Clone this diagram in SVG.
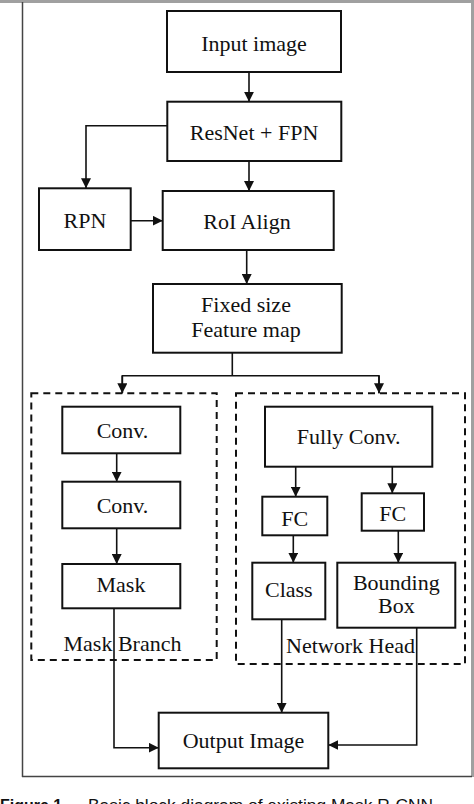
<svg xmlns="http://www.w3.org/2000/svg" width="474" height="804" viewBox="0 0 474 804">
<style>
.box{fill:#fff;stroke:#111;stroke-width:2}
.dash{fill:none;stroke:#111;stroke-width:2;stroke-dasharray:7,5}
.t{font-family:"Liberation Serif","Times New Roman",serif;font-size:22px;fill:#111;text-anchor:middle}
.c{fill:none;stroke:#111;stroke-width:1.6}
.cap{font-family:"Liberation Sans",Arial,sans-serif;font-size:16px;fill:#111}
</style>
<defs>
<marker id="ah" markerWidth="10" markerHeight="10" refX="10" refY="5" orient="auto" markerUnits="userSpaceOnUse">
<path d="M0,0 L10,5 L0,10 Z" fill="#111"/>
</marker>
</defs>
<rect width="474" height="804" fill="#fff"/>
<g id="frame">
<line x1="0" y1="1.5" x2="474" y2="1.5" stroke="#a0a0a0" stroke-width="3"/>
<line x1="472.5" y1="0" x2="472.5" y2="777" stroke="#a0a0a0" stroke-width="3"/>
<line x1="22.5" y1="2" x2="22.5" y2="777" stroke="#444" stroke-width="1.5"/>
<line x1="22" y1="776.5" x2="472" y2="776.5" stroke="#444" stroke-width="1.5"/>
</g>
<g id="mask-branch">
<rect class="dash" x="31.3" y="393.3" width="185.4" height="266.7"/>
<text class="t" x="122.5" y="651">Mask Branch</text>
</g>
<g id="network-head">
<rect class="dash" x="236" y="393.3" width="229" height="270.7"/>
<text class="t" x="350.5" y="653">Network Head</text>
</g>
<g id="connectors">
<line class="c" x1="249" y1="72" x2="249" y2="101.7" marker-end="url(#ah)"/>
<line class="c" x1="249" y1="161" x2="249" y2="191" marker-end="url(#ah)"/>
<polyline class="c" points="167.3,125.7 86,125.7 86,188.3" marker-end="url(#ah)"/>
<line class="c" x1="130.7" y1="220.7" x2="162.7" y2="220.7" marker-end="url(#ah)"/>
<line class="c" x1="246.7" y1="250" x2="246.7" y2="284" marker-end="url(#ah)"/>
<polyline class="c" points="232.3,352.7 232.3,375.7"/>
<polyline class="c" points="122.3,393.3 122.3,375.7 379,375.7 379,393.3"/>
<line class="c" x1="122.3" y1="376" x2="122.3" y2="393.3" marker-end="url(#ah)"/>
<line class="c" x1="379" y1="376" x2="379" y2="393.3" marker-end="url(#ah)"/>
<line class="c" x1="116.7" y1="453.3" x2="116.7" y2="481.7" marker-end="url(#ah)"/>
<line class="c" x1="116.7" y1="528.3" x2="116.7" y2="564" marker-end="url(#ah)"/>
<line class="c" x1="295.7" y1="466.7" x2="295.7" y2="496.7" marker-end="url(#ah)"/>
<line class="c" x1="392.3" y1="466.7" x2="392.3" y2="493.3" marker-end="url(#ah)"/>
<line class="c" x1="293.3" y1="535.3" x2="293.3" y2="562.7" marker-end="url(#ah)"/>
<line class="c" x1="398.3" y1="530.7" x2="398.3" y2="562.7" marker-end="url(#ah)"/>
<polyline class="c" points="114,608.3 114,747.7 158.7,747.7" marker-end="url(#ah)"/>
<line class="c" x1="281.7" y1="619.3" x2="281.7" y2="712.7" marker-end="url(#ah)"/>
<polyline class="c" points="416.7,627.7 416.7,745 328.3,745" marker-end="url(#ah)"/>
</g>
<g id="input-image"><rect class="box" x="167" y="11" width="174" height="61"/><text class="t" x="254" y="51">Input image</text></g>
<g id="resnet-fpn"><rect class="box" x="167.3" y="101.7" width="174" height="59.3"/><text class="t" x="254" y="140">ResNet + FPN</text></g>
<g id="rpn"><rect class="box" x="39" y="188.3" width="91.7" height="61.7"/><text class="t" x="85" y="228">RPN</text></g>
<g id="roi-align"><rect class="box" x="162.7" y="191" width="171" height="59"/><text class="t" x="247" y="229">RoI Align</text></g>
<g id="fixed-size"><rect class="box" x="153" y="284" width="188.7" height="68.7"/><text class="t" x="246" y="312">Fixed size</text><text class="t" x="246" y="337">Feature map</text></g>
<g id="conv1"><rect class="box" x="62.3" y="406.7" width="118" height="46.6"/><text class="t" x="122.5" y="438">Conv.</text></g>
<g id="conv2"><rect class="box" x="62.3" y="481.7" width="118" height="46.6"/><text class="t" x="122.5" y="513">Conv.</text></g>
<g id="mask"><rect class="box" x="62.3" y="564" width="118" height="44.3"/><text class="t" x="121" y="592">Mask</text></g>
<g id="fully-conv"><rect class="box" x="265" y="406.7" width="167.3" height="60"/><text class="t" x="348.7" y="444">Fully Conv.</text></g>
<g id="fc1"><rect class="box" x="262.3" y="496.7" width="65" height="38.6"/><text class="t" x="294.8" y="526">FC</text></g>
<g id="fc2"><rect class="box" x="361.7" y="493.3" width="62.3" height="37.4"/><text class="t" x="392.8" y="521">FC</text></g>
<g id="class"><rect class="box" x="252.3" y="562.7" width="73" height="56.6"/><text class="t" x="288.8" y="597">Class</text></g>
<g id="bounding-box"><rect class="box" x="337.3" y="562.7" width="118" height="65"/><text class="t" x="396.3" y="590">Bounding</text><text class="t" x="396.3" y="613">Box</text></g>
<g id="output-image"><rect class="box" x="158.7" y="712.7" width="169.6" height="55.6"/><text class="t" x="243.5" y="748">Output Image</text></g>
<g id="caption">
<text class="cap" x="0" y="810.5" font-weight="bold">Figure 1</text>
<text class="cap" x="88" y="810.5" textLength="345" lengthAdjust="spacingAndGlyphs">Basic block diagram of existing Mask R-CNN</text>
</g>
</svg>
